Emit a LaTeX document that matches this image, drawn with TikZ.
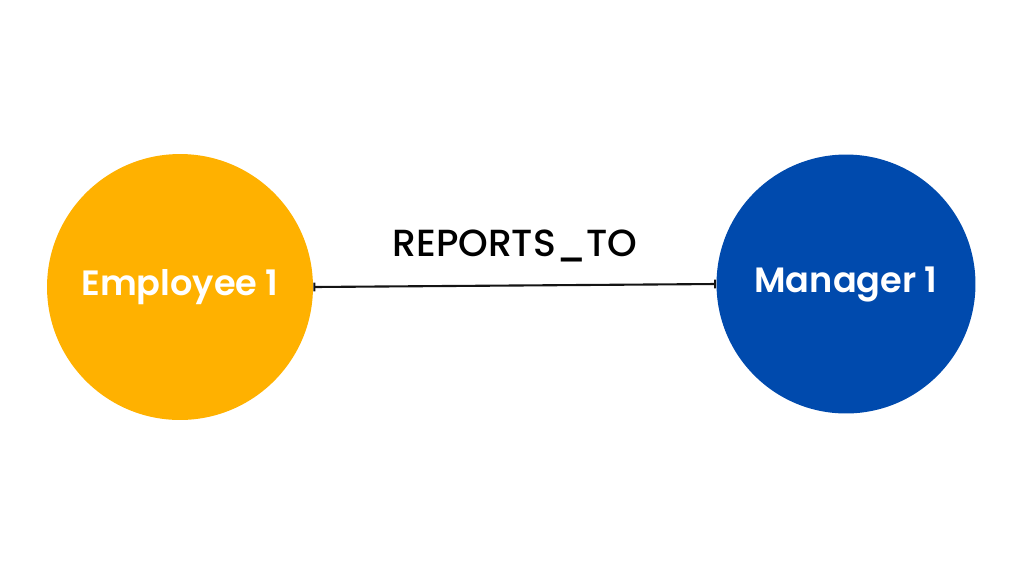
\documentclass[tikz,border=0pt]{standalone}
\usepackage{fontspec}
\setmainfont{Poppins}
\newfontfamily\labelfont{Poppins Medium}
\newfontfamily\namefont{Poppins SemiBold}
\usepackage{tikz}
\usetikzlibrary{arrows.meta,positioning,calc}
\definecolor{empyellow}{RGB}{255,177,0}
\definecolor{mgrblue}{RGB}{0,74,173}
\definecolor{edgeblack}{RGB}{20,20,20}

\begin{document}
\begin{tikzpicture}[
    x=0.02cm, y=-0.02cm,
    every node/.style={font=\labelfont\fontsize{21.5}{25}\selectfont},
    empnode/.style={circle, fill=empyellow, minimum size=5.32cm, inner sep=0pt, text=white, font=\namefont\fontsize{20}{24}\selectfont},
    mgrnode/.style={circle, fill=mgrblue, minimum size=5.18cm, inner sep=0pt, text=white, font=\namefont\fontsize{20}{24}\selectfont}
]
    \useasboundingbox (0,0) rectangle (1024,576);

    \node (employee) [empnode] at (180,287) {Employee 1};
    \node (manager) [mgrnode] at (846,284) {Manager 1};

    \draw[{Bar[width=5pt]}-{Bar[width=5pt]}, line width=1.2pt, draw=edgeblack] (employee.east) -- node[midway, yshift=0.8cm, text=black] {REPORTS\_TO} (manager.west);

\end{tikzpicture}
\end{document}
